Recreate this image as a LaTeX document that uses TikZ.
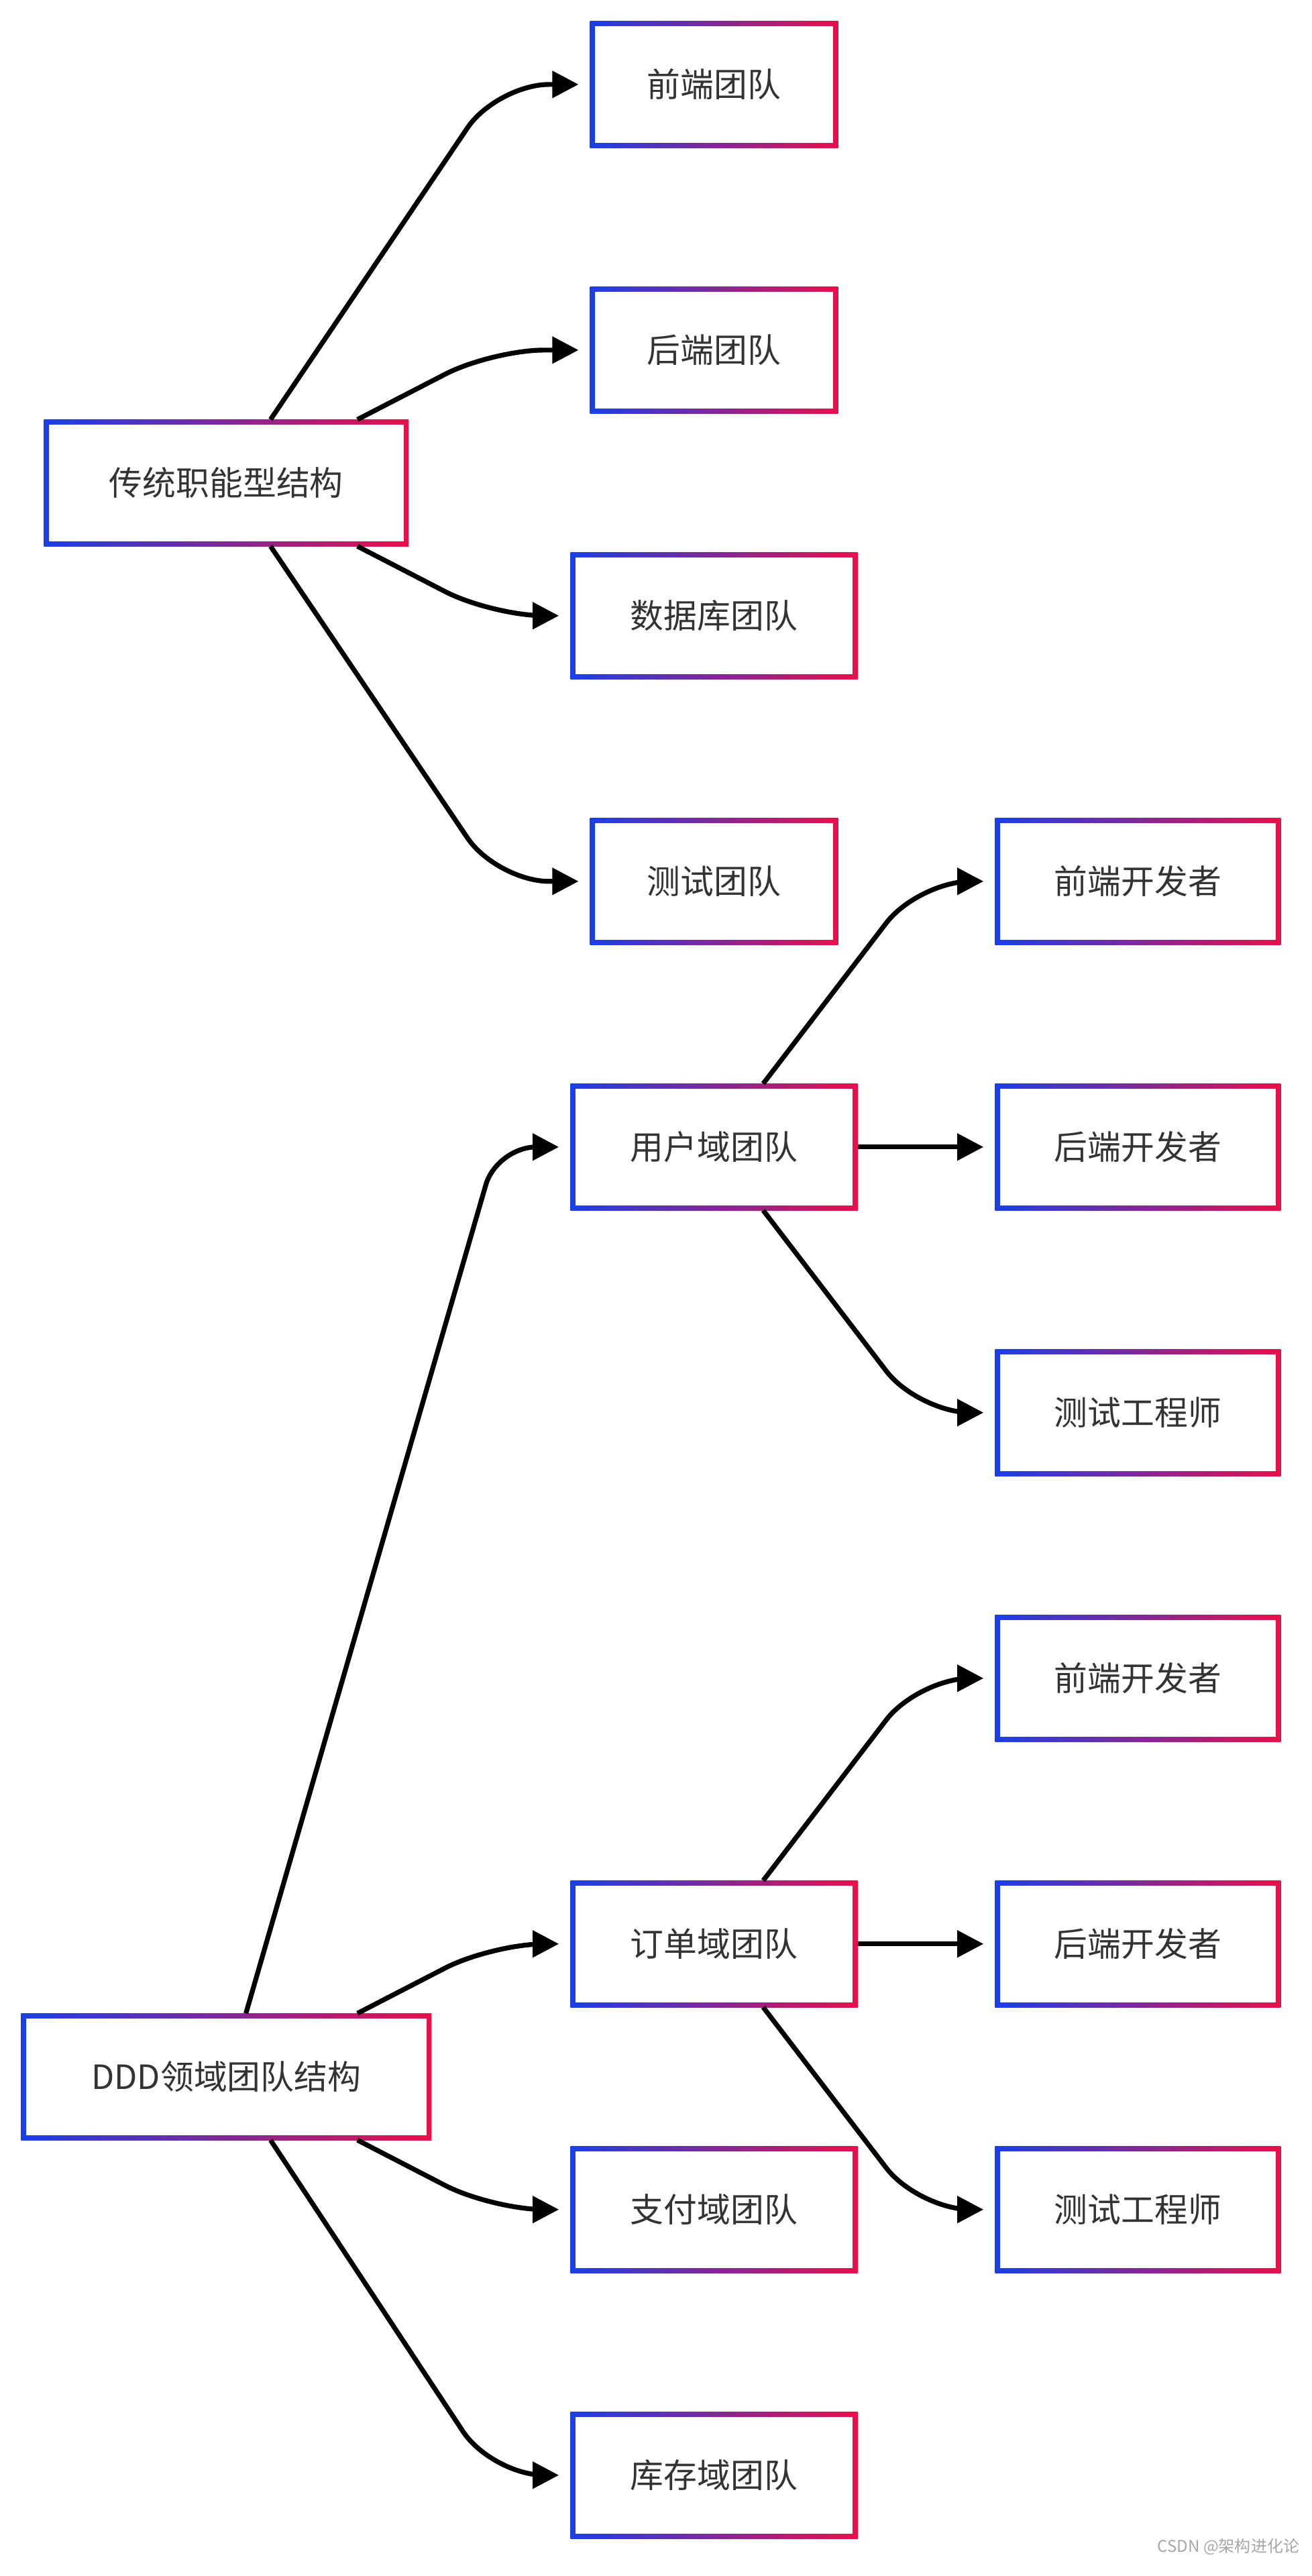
\documentclass[tikz,border=0pt]{standalone}
\usepackage{fontspec}
\setmainfont{Noto Sans CJK SC}
\usetikzlibrary{arrows.meta,backgrounds,calc}
\definecolor{gb}{HTML}{1A3FE8}
\definecolor{gr}{HTML}{E8104A}
\definecolor{tx}{HTML}{333333}
\begin{document}
\begin{tikzpicture}[x=0.05cm,y=-0.05cm,
 box/.style={minimum height=3.85cm,inner sep=0pt,text=tx,font=\fontsize{29}{34}\selectfont},
 con/.style={line width=4.2pt,rounded corners=1.6cm,-{Triangle[length=0.8cm,width=0.8cm]},shorten >=0.35cm}]
\useasboundingbox (0,0) rectangle (800,1571);
\newcommand\bx[5]{\node[box,minimum width=#4*0.05cm] (#1) at (#2,#3) {#5};}
\bx{t}{138}{294.5}{222}{传统职能型结构}
\bx{tf}{435.5}{51.5}{151}{前端团队}
\bx{tb}{435.5}{213.5}{151}{后端团队}
\bx{td}{435.5}{375.5}{175}{数据库团队}
\bx{tt}{435.5}{537.5}{151}{测试团队}
\bx{u}{435.5}{699.5}{175}{用户域团队}
\bx{uf}{694}{537.5}{174}{前端开发者}
\bx{ub}{694}{699.5}{174}{后端开发者}
\bx{ut}{694}{861.5}{174}{测试工程师}
\bx{o}{435.5}{1185.5}{175}{订单域团队}
\bx{of}{694}{1023.5}{174}{前端开发者}
\bx{ob}{694}{1185.5}{174}{后端开发者}
\bx{ot}{694}{1347.5}{174}{测试工程师}
\bx{d}{138}{1266.5}{250}{DDD领域团队结构}
\bx{p}{435.5}{1347.5}{175}{支付域团队}
\bx{k}{435.5}{1509.5}{175}{库存域团队}
\begin{scope}[on background layer]
\foreach \n in {t,tf,tb,td,tt,u,uf,ub,ut,o,of,ob,ot,d,p,k}{
 \shade[left color=gb,right color=gr] (\n.south west) rectangle (\n.north east);
 \fill[white] ($(\n.south west)+(3,-3)$) rectangle ($(\n.north east)+(-3,3)$);
}
\end{scope}
\draw[con] ([xshift=1.35cm]t.north) -- (303,51.5) -- (tf.west);
\draw[con] ([xshift=4cm]t.north) -- (300,213.5) -- (tb.west);
\draw[con] ([xshift=4cm]t.south) -- (300,375.5) -- (td.west);
\draw[con] ([xshift=1.35cm]t.south) -- (303,537.5) -- (tt.west);
\draw[con] ([xshift=1.5cm]u.north) -- (560,537.5) -- (uf.west);
\draw[con] (u.east) -- (ub.west);
\draw[con] ([xshift=1.5cm]u.south) -- (560,861.5) -- (ut.west);
\draw[con] ([xshift=1.5cm]o.north) -- (560,1023.5) -- (of.west);
\draw[con] (o.east) -- (ob.west);
\draw[con] ([xshift=1.5cm]o.south) -- (560,1347.5) -- (ot.west);
\draw[con,rounded corners=1.2cm] ([xshift=0.6cm]d.north) -- (303,699.5) -- (u.west);
\draw[con] ([xshift=4cm]d.north) -- (300,1185.5) -- (o.west);
\draw[con] ([xshift=4cm]d.south) -- (300,1347.5) -- (p.west);
\draw[con] ([xshift=1.35cm]d.south) -- (300,1509.5) -- (k.west);
\node[text=gray!70,font=\fontsize{14}{16}\selectfont,anchor=east] (wm) at (795,1553) {CSDN @架构进化论};
\end{tikzpicture}
\end{document}
